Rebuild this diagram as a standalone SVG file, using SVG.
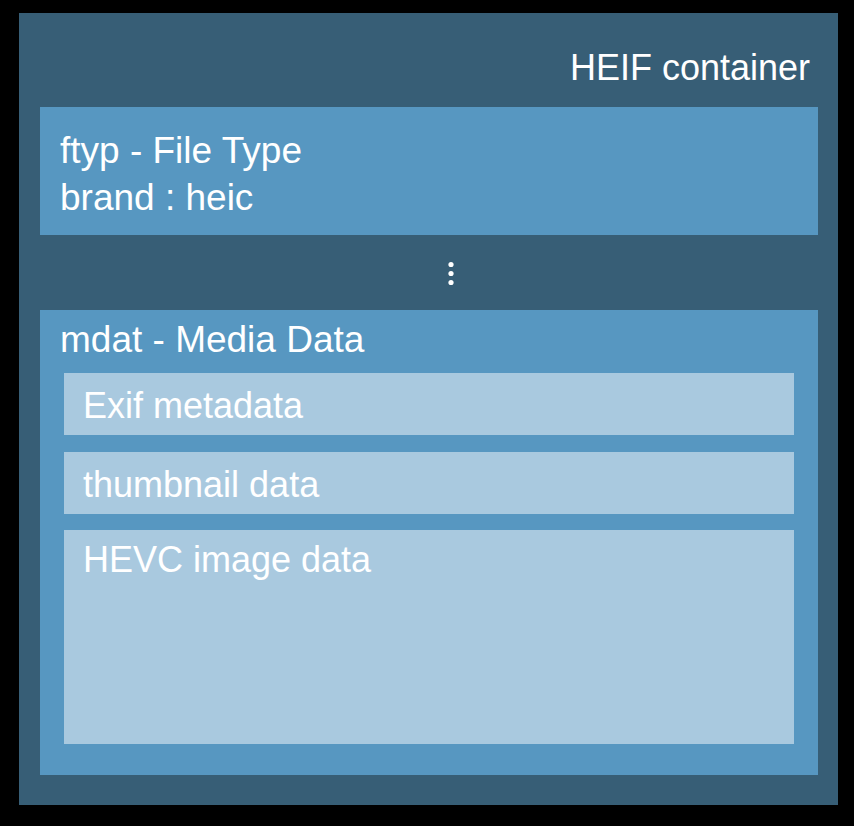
<svg xmlns="http://www.w3.org/2000/svg" width="854" height="826" viewBox="0 0 854 826">
<style>
.outer{fill:#375e76}
.box{fill:#5797c1}
.inner{fill:#a9c9df}
text{font-family:"Liberation Sans",Arial,sans-serif;font-size:36px;fill:#ffffff}
.wide{font-size:37px}
.dot{fill:#ffffff}
</style>
<rect x="0" y="0" width="854" height="826" fill="#000000"/>
<g id="heif-container">
<rect class="outer" x="19" y="13" width="819" height="792"/>
<text x="810" y="80" text-anchor="end">HEIF container</text>
</g>
<g id="ftyp">
<rect class="box" x="40" y="107" width="778" height="128"/>
<text class="wide" x="60" y="163">ftyp - File Type</text>
<text class="wide" x="60" y="210">brand : heic</text>
</g>
<g id="ellipsis">
<circle class="dot" cx="451" cy="264.5" r="2.6"/>
<circle class="dot" cx="451" cy="273.5" r="2.6"/>
<circle class="dot" cx="451" cy="282.5" r="2.6"/>
</g>
<g id="mdat">
<rect class="box" x="40" y="310" width="778" height="465"/>
<text class="wide" x="60" y="352">mdat - Media Data</text>
</g>
<g id="exif">
<rect class="inner" x="64" y="373" width="730" height="62"/>
<text x="83" y="418">Exif metadata</text>
</g>
<g id="thumbnail">
<rect class="inner" x="64" y="452" width="730" height="62"/>
<text x="83" y="497">thumbnail data</text>
</g>
<g id="hevc">
<rect class="inner" x="64" y="530" width="730" height="214"/>
<text x="83" y="572">HEVC image data</text>
</g>
<g id="connectors"/>
</svg>
